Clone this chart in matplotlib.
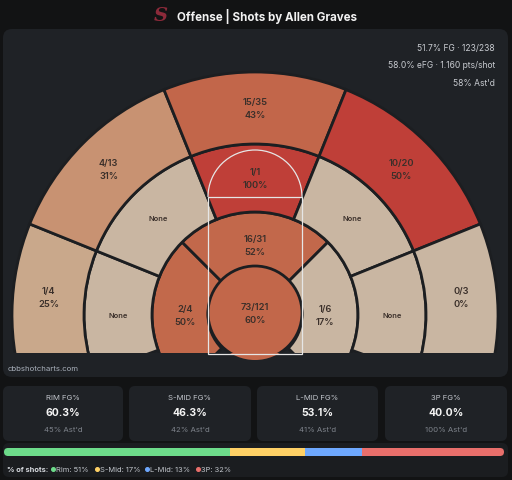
import matplotlib
matplotlib.use("Agg")
import matplotlib.pyplot as plt
from matplotlib.patches import Wedge, Circle, Rectangle, FancyBboxPatch, Arc
import numpy as np

plt.rcParams['font.family'] = ['Inter', 'DejaVu Sans']

W, H = 512, 481

# ---- data ----
title = "Offense | Shots by Allen Graves"
summary_lines = ["51.7% FG \u00b7 123/238", "58.0% eFG \u00b7 1.160 pts/shot", "58% Ast'd"]

zone_names = ["rim", "smid_l", "smid_c", "smid_r",
              "lmid_lc", "lmid_lw", "lmid_c", "lmid_rw", "lmid_rc",
              "3p_lc", "3p_lw", "3p_c", "3p_rw", "3p_rc"]
zone_made = [73, 2, 16, 1, 0, 0, 1, 0, 0, 1, 4, 15, 10, 0]
zone_att = [121, 4, 31, 6, 0, 0, 1, 0, 0, 4, 13, 35, 20, 3]
zone_colors = ["#c2674a", "#c2694b", "#c2684b", "#c9b6a2",
               "#c9b6a2", "#c9b6a2", "#bf3f38", "#c9b6a2", "#c9b6a2",
               "#c9a88b", "#c89272", "#c2664a", "#bf3f38", "#c9b6a2"]

cat_names = ["RIM FG%", "S-MID FG%", "L-MID FG%", "3P FG%"]
cat_fg = [60.3, 46.3, 53.1, 40.0]
cat_astd = [45, 42, 41, 100]
share_names = ["Rim", "S-Mid", "L-Mid", "3P"]
share_pct = [51, 17, 13, 32]
share_colors = ["#6ddb8a", "#ffd166", "#6ea8fe", "#e96f6b"]

# ---- geometry (pixels, y measured from top) ----
def Y(py):
    return H - py

cx, cy = 255, Y(316)
r1, r2, r3, r4 = 47, 103, 171, 243
a_c, a_w = 22, 68  # corner / wing dividers (deg above horizontal)

# r_in, r_out, theta1, theta2, label_r, label_theta
zone_geom = {
    "smid_l": (r1, r2, 135, 225, 70, 180),
    "smid_c": (r1, r2, 45, 135, 70, 90),
    "smid_r": (r1, r2, -45, 45, 70, 0),
    "lmid_lc": (r2, r3, 180 - a_c, 200, 137, 180),
    "lmid_lw": (r2, r3, 180 - a_w, 180 - a_c, 137, 135),
    "lmid_c": (r2, r3, a_w, 180 - a_w, 137, 90),
    "lmid_rw": (r2, r3, a_c, a_w, 137, 45),
    "lmid_rc": (r2, r3, -20, a_c, 137, 0),
    "3p_lc": (r3, r4, 180 - a_c, 200, 207, 175),
    "3p_lw": (r3, r4, 180 - a_w, 180 - a_c, 207, 135),
    "3p_c": (r3, r4, a_w, 180 - a_w, 207, 90),
    "3p_rw": (r3, r4, a_c, a_w, 207, 45),
    "3p_rc": (r3, r4, -20, a_c, 207, 5),
}

bg = "#121314"
panel = "#1f2226"
edge = "#1c1e21"
txt_dark = "#3a2f2a"
zfs = 6.7

fig = plt.figure(figsize=(W / 100, H / 100), dpi=100, facecolor=bg)
ax = fig.add_axes([0, 0, 1, 1])
ax.set_xlim(0, W)
ax.set_ylim(0, H)
ax.axis("off")

def rbox(x0, y0, x1, y1, color, rad=8, z=1):
    p = FancyBboxPatch((x0, Y(y1)), x1 - x0, y1 - y0,
                       boxstyle="round,pad=0,rounding_size=%d" % rad,
                       fc=color, ec="none", zorder=z)
    ax.add_patch(p)
    return p

# title
ax.text(161, Y(16), "S", color="#8c2a3a", fontsize=14, fontweight="bold",
        family="DejaVu Serif", ha="center", va="center", style="italic")
ax.text(177, Y(16), title, color="#f2f2f2", fontsize=8.3, fontweight="bold",
        ha="left", va="center")

# main panel
rbox(3, 30, 508, 378, panel, rad=9)

clip = Rectangle((0, Y(354)), W, 354 - 30, transform=ax.transData)

for name, made, att, col in zip(zone_names, zone_made, zone_att, zone_colors):
    if name == "rim":
        continue
    rin, rout, t1, t2, lr, lt = zone_geom[name]
    w = Wedge((cx, cy), rout, t1, t2, width=rout - rin, fc=col, ec=edge,
              lw=2.0, zorder=2)
    ax.add_patch(w)
    w.set_clip_path(clip)
    lx = cx + lr * np.cos(np.radians(lt))
    ly = cy + lr * np.sin(np.radians(lt))
    if att == 0:
        ax.text(lx, ly, "None", color=txt_dark, fontsize=5.4, fontweight="semibold",
                ha="center", va="center", zorder=5)
    else:
        ax.text(lx, ly + 6.5, "%d/%d" % (made, att), color=txt_dark, fontsize=zfs,
                fontweight="semibold", ha="center", va="center", zorder=5)
        ax.text(lx, ly - 6.5, "%d%%" % round(100 * made / att), color=txt_dark,
                fontsize=zfs, fontweight="semibold", ha="center", va="center", zorder=5)

# rim circle
i = zone_names.index("rim")
rim_fill = Circle((cx, cy + 2), r1, fc=zone_colors[i], ec="none", zorder=3)
ax.add_patch(rim_fill)
rim_line = Circle((cx, cy + 2), r1, fc="none", ec=edge, lw=2.0, zorder=3)
ax.add_patch(rim_line)
rim_line.set_clip_path(clip)
ax.text(cx, cy + 2 + 6.5, "%d/%d" % (zone_made[i], zone_att[i]), color=txt_dark,
        fontsize=zfs, fontweight="semibold", ha="center", va="center", zorder=5)
ax.text(cx, cy + 2 - 6.5, "%d%%" % round(100 * zone_made[i] / zone_att[i]),
        color=txt_dark, fontsize=zfs, fontweight="semibold", ha="center",
        va="center", zorder=5)

# lane + free throw circle
lane_c = "#e6e6e6"
ax.add_patch(Rectangle((208, Y(355)), 94, 355 - 198, fc="none", ec=lane_c,
                       lw=0.9, zorder=4))
ax.add_patch(Arc((255, Y(198)), 94, 94, theta1=0, theta2=180, ec=lane_c,
                 lw=0.9, zorder=4))

# summary text
for k, s in enumerate(summary_lines):
    ax.text(495, Y(49 + 17 * k), s, color="#c9ccd1", fontsize=6.1,
            ha="right", va="center")

ax.text(8, Y(369), "cbbshotcharts.com", color="#a9b0bb", fontsize=5.6,
        ha="left", va="center")

# stat boxes
box_x = [(3, 123), (129, 251), (257, 378), (385, 507)]
for (x0, x1), nm, fg, ast in zip(box_x, cat_names, cat_fg, cat_astd):
    rbox(x0, 387, x1, 442, panel, rad=6)
    xm = (x0 + x1) / 2
    ax.text(xm, Y(398), nm, color="#c2c6cc", fontsize=5.6, ha="center", va="center")
    ax.text(xm, Y(413), "%.1f%%" % fg, color="#f4f4f4", fontsize=7.5,
            fontweight="bold", ha="center", va="center")
    ax.text(xm, Y(430), "%d%% Ast'd" % ast, color="#7e838b", fontsize=5.6,
            ha="center", va="center")

# shot share bar
rbox(3, 444, 508, 478, "#1b1d20", rad=6)
bar_x0, bar_w = 4, 500
tot = sum(share_pct)
bar_clip = FancyBboxPatch((bar_x0, Y(457)), bar_w, 8,
                          boxstyle="round,pad=0,rounding_size=4",
                          transform=ax.transData)
left = bar_x0
for p, c in zip(share_pct, share_colors):
    w = bar_w * p / tot
    b = ax.barh(Y(453), w, height=8, left=left, color=c, zorder=3)
    for patch in b:
        patch.set_clip_path(bar_clip)
    left += w

ax.text(7, Y(470), "% of shots:", color="#d8dbe0", fontsize=5.4,
        fontweight="bold", ha="left", va="center")
dot_x = [53, 97, 147, 198]
for dx, nm, p, c in zip(dot_x, share_names, share_pct, share_colors):
    ax.plot(dx, Y(470), "o", ms=2.6, color=c, zorder=4)
    ax.text(dx + 3, Y(470), "%s: %d%%" % (nm, p), color="#c2c6cc", fontsize=5.4,
            ha="left", va="center")

fig.savefig("out.png", dpi=100, facecolor=bg)
